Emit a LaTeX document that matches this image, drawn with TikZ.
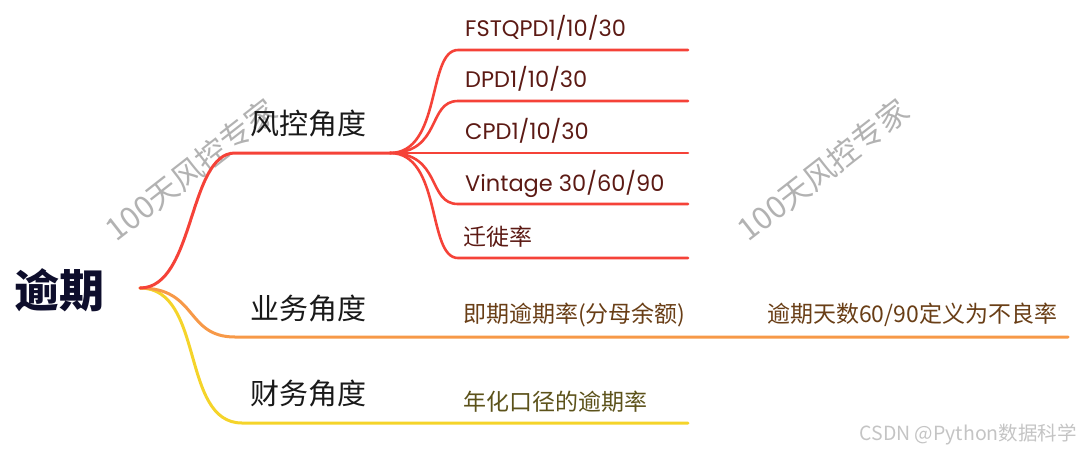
\documentclass[tikz,border=0pt]{standalone}
\usepackage{fontspec}
\setmainfont{Noto Sans CJK SC}
\newfontfamily\latinfont{Poppins}
\definecolor{bred}{RGB}{245,66,56}
\definecolor{bora}{RGB}{247,153,72}
\definecolor{byel}{RGB}{245,212,42}
\definecolor{tred}{RGB}{92,26,20}
\definecolor{tora}{RGB}{105,62,22}
\definecolor{tyel}{RGB}{92,82,26}
\definecolor{troot}{RGB}{14,14,44}
\definecolor{wmark}{RGB}{178,178,178}
\definecolor{csdn}{RGB}{196,196,196}
\begin{document}
\begin{tikzpicture}[x=1pt,y=-1pt,
  branch/.style={line width=3pt,line cap=round},
  leafline/.style={line width=2.6pt,line cap=round,bred},
  txt/.style={inner sep=0pt,anchor=base west},
  lbl/.style={txt,font=\fontsize{29}{29}\selectfont,text=black!90},
  leaflat/.style={txt,font=\latinfont\fontsize{22.5}{22.5}\selectfont,text=tred},
  leafcjk/.style={txt,font=\fontsize{23}{23}\selectfont},
  wm/.style={inner sep=0pt,font=\fontsize{31}{31}\selectfont,text=wmark,rotate=38}]
\useasboundingbox (0,0) rectangle (1080,451);
% watermarks
\node[wm] (wm1) at (191,170) {100天风控专家};
\node[wm] (wm2) at (823,170) {100天风控专家};
\node[inner sep=0pt,anchor=east,font=\fontsize{19.5}{19.5}\selectfont,text=csdn] (csdn) at (1077,434) {CSDN @Python数据科学};
% root
\node[txt,font=\bfseries\fontsize{45}{45}\selectfont,text=troot] (root) at (14,307) {逾期};
\coordinate (r) at (140,288);
% main branches
\coordinate (rb) at (235,153);
\coordinate (j1) at (390,153);
\coordinate (ob) at (235,337);
\coordinate (oe) at (1068,337);
\coordinate (yb) at (242,423);
\coordinate (ye) at (688,423);
\draw[branch,byel] (r) .. controls (205,288) and (180,423) .. (yb) -- (ye);
\draw[branch,bora] (r) .. controls (198,288) and (185,337) .. (ob) -- (oe);
\draw[branch,bred] (r) .. controls (195,288) and (188,153) .. (rb) -- (j1);
\node[lbl] (b1) at (250,134) {风控角度};
\node[lbl] (b2) at (250,319) {业务角度};
\node[lbl] (b3) at (250,404) {财务角度};
% leaf lines
\foreach \n/\y in {1/50,2/101,3/153,4/204,5/258}{
  \coordinate (ls\n) at (458,\y);
  \coordinate (le\n) at (688,\y);
}
\draw[leafline] (j1) .. controls (442,153) and (427,50) .. (ls1) -- (le1);
\draw[leafline] (j1) .. controls (442,153) and (427,101) .. (ls2) -- (le2);
\draw[leafline] (j1) -- (ls3) -- (le3);
\draw[leafline] (j1) .. controls (442,153) and (427,204) .. (ls4) -- (le4);
\draw[leafline] (j1) .. controls (442,153) and (427,258) .. (ls5) -- (le5);
\node[leaflat] (t1) at (465,36) {FSTQPD1/10/30};
\node[leaflat] (t2) at (465,87.5) {DPD1/10/30};
\node[leaflat] (t3) at (465,139) {CPD1/10/30};
\node[leaflat] (t4) at (465,191) {Vintage 30/60/90};
\node[leafcjk,text=tred] (t5) at (463,245) {迁徙率};
\node[leafcjk,text=tora] (t6) at (463,322) {即期逾期率(分母余额)};
\node[leafcjk,text=tora] (t7) at (767,322) {逾期天数60/90定义为不良率};
\node[leafcjk,text=tyel] (t8) at (463,410) {年化口径的逾期率};
\end{tikzpicture}
\end{document}
